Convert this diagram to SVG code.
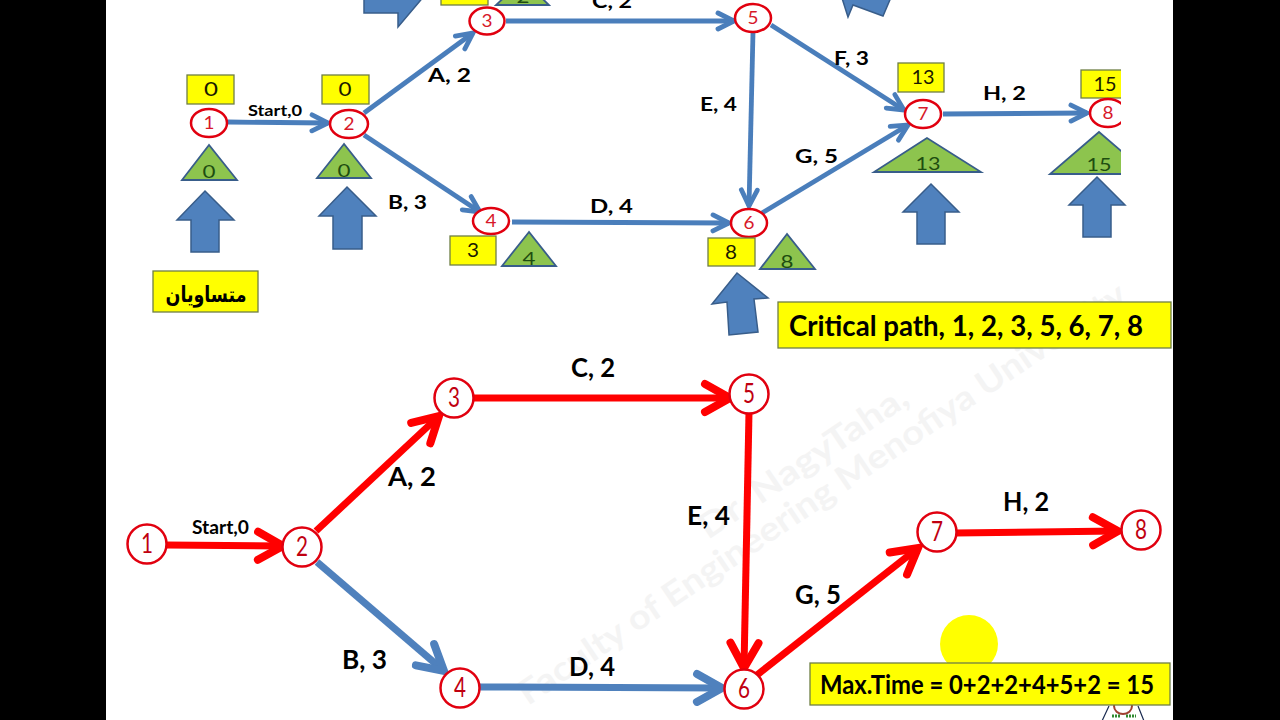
<svg xmlns="http://www.w3.org/2000/svg" width="1280" height="720" viewBox="0 0 1280 720">
<style>
text{font-family:Lato,"Open Sans","Liberation Sans",sans-serif;fill:#000}
.lb{font-weight:700}
.top{font-size:19px}
.bot{font-size:27px}
.num{font-size:19px;text-anchor:middle;fill:#1a1a00}
.tn{font-size:18px;text-anchor:middle;fill:#1e4d10}
.box{fill:#ffff00;stroke:#6f7f45;stroke-width:1.3}
.tri{fill:#8dc44e;stroke:#385d8a;stroke-width:1.8}
.arr{fill:#4f81bd;stroke:#385d8a;stroke-width:1.5}
.c{fill:#fff;stroke:#e1000f;stroke-width:2.5}
.cb{fill:#fff;stroke:#e1000f;stroke-width:2.5}
.d{fill:#d7182a;text-anchor:middle}
.ds{font-size:18px}
.db{font-size:26px;fill:#c00010}
.lt{fill:none;stroke:#4a7ebb;stroke-width:4.800}
.lr{fill:none;stroke:#ff0000;stroke-width:7}
.lbl{fill:none;stroke:#4f81bd;stroke-width:7}
.wm{fill:#f4f4f4;font-weight:700;font-size:34px}
</style>
<defs>
<marker id="hb" markerUnits="userSpaceOnUse" markerWidth="40" markerHeight="40" refX="24" refY="20" orient="auto" overflow="visible">
<path d="M8,12 L24,20 L8,28" fill="none" stroke="#4a7ebb" stroke-width="4.800" stroke-linecap="round"/>
</marker>
<marker id="hr" markerUnits="userSpaceOnUse" markerWidth="60" markerHeight="60" refX="40" refY="30" orient="auto" overflow="visible">
<path d="M15,16 L40,30 L15,44" fill="none" stroke="#ff0000" stroke-width="8" stroke-linecap="round"/>
</marker>
<marker id="hl" markerUnits="userSpaceOnUse" markerWidth="60" markerHeight="60" refX="40" refY="30" orient="auto" overflow="visible">
<path d="M15,16 L40,30 L15,44" fill="none" stroke="#4f81bd" stroke-width="8" stroke-linecap="round"/>
</marker>
<clipPath id="clip8"><rect x="1040" y="60" width="81" height="120"/></clipPath>
</defs>

<rect width="1280" height="720" fill="#fff"/>

<g id="watermark">
<text class="wm" transform="translate(528,706) rotate(-34)" textLength="725" lengthAdjust="spacingAndGlyphs">Faculty of Engineering Menofiya University</text>
<text class="wm" transform="translate(708,540) rotate(-34)" textLength="245" lengthAdjust="spacingAndGlyphs">Dr. NagyTaha,</text>
</g>

<g id="top-connectors">
<line class="lt" x1="228" y1="122" x2="328" y2="123" marker-end="url(#hb)"/>
<line class="lt" x1="364" y1="113" x2="473" y2="33" marker-end="url(#hb)"/>
<line class="lt" x1="364" y1="135" x2="480" y2="212" marker-end="url(#hb)"/>
<line class="lt" x1="506" y1="21" x2="734" y2="21" marker-end="url(#hb)"/>
<line class="lt" x1="512" y1="222" x2="729" y2="223" marker-end="url(#hb)"/>
<line class="lt" x1="753" y1="32" x2="749" y2="206" marker-end="url(#hb)"/>
<line class="lt" x1="771" y1="25" x2="904" y2="110" marker-end="url(#hb)"/>
<line class="lt" x1="762" y1="213" x2="908" y2="125" marker-end="url(#hb)"/>
<line class="lt" x1="943" y1="114" x2="1087" y2="113" marker-end="url(#hb)"/>
</g>

<g id="top-labels">
<text class="lb" font-size="15" x="248" y="116" textLength="54" lengthAdjust="spacingAndGlyphs">Start,0</text>
<text class="lb top" x="428" y="82" textLength="43" lengthAdjust="spacingAndGlyphs">A, 2</text>
<text class="lb top" x="388" y="209" textLength="39" lengthAdjust="spacingAndGlyphs">B, 3</text>
<text class="lb top" x="592" y="8" textLength="40" lengthAdjust="spacingAndGlyphs">C, 2</text>
<text class="lb top" x="590" y="213" textLength="43" lengthAdjust="spacingAndGlyphs">D, 4</text>
<text class="lb top" x="700" y="111" textLength="37" lengthAdjust="spacingAndGlyphs">E, 4</text>
<text class="lb top" x="834" y="65" textLength="35" lengthAdjust="spacingAndGlyphs">F, 3</text>
<text class="lb top" x="795" y="163" textLength="43" lengthAdjust="spacingAndGlyphs">G, 5</text>
<text class="lb top" x="983" y="100" textLength="43" lengthAdjust="spacingAndGlyphs">H, 2</text>
</g>

<g id="t-node1">
<rect class="box" x="187" y="75" width="47" height="29"/><text class="num" x="211" y="96" textLength="14" lengthAdjust="spacingAndGlyphs">0</text>
<ellipse class="c" cx="209" cy="123" rx="18" ry="14"/><text class="d ds" x="209" y="129" textLength="11" lengthAdjust="spacingAndGlyphs">1</text>
<polygon class="tri" points="209,145 182,180 237,180"/><text class="tn" x="209" y="178" textLength="13" lengthAdjust="spacingAndGlyphs">0</text>
<polygon class="arr" points="205,191 234,220 219,220 219,252 191,252 191,220 177,220"/>
</g>
<g id="t-node2">
<rect class="box" x="322" y="75" width="47" height="29"/><text class="num" x="345" y="96" textLength="13" lengthAdjust="spacingAndGlyphs">0</text>
<ellipse class="c" cx="349" cy="124" rx="19" ry="14"/><text class="d ds" x="349" y="130" textLength="11" lengthAdjust="spacingAndGlyphs">2</text>
<polygon class="tri" points="344,144 317,178 371,178"/><text class="tn" x="344" y="177" textLength="13" lengthAdjust="spacingAndGlyphs">0</text>
<polygon class="arr" points="347,187 376,216 362,216 362,249 333,249 333,216 319,216"/>
</g>
<g id="t-node3">
<rect class="box" x="441" y="-10" width="47" height="15"/>
<polygon class="tri" points="523,-20 496,5 549,5"/><text class="tn" x="523" y="3" textLength="13" lengthAdjust="spacingAndGlyphs">2</text>
<ellipse class="c" cx="487" cy="21" rx="17.500" ry="13.500"/><text class="d ds" x="487" y="27" textLength="11" lengthAdjust="spacingAndGlyphs">3</text>
<polygon class="arr" points="364,-5 364,13 398,13 398,27 425,-5"/>
</g>
<g id="t-node4">
<ellipse class="c" cx="491" cy="221" rx="18" ry="13"/><text class="d ds" x="491" y="227" textLength="11" lengthAdjust="spacingAndGlyphs">4</text>
<rect class="box" x="450" y="236" width="46" height="29"/><text class="num" x="473" y="257" textLength="12" lengthAdjust="spacingAndGlyphs">3</text>
<polygon class="tri" points="529,232 502,266 556,266"/><text class="tn" x="529" y="265" textLength="13" lengthAdjust="spacingAndGlyphs">4</text>
</g>
<g id="t-node5">
<ellipse class="c" cx="753" cy="18" rx="18" ry="14"/><text class="d ds" x="753" y="24" textLength="11" lengthAdjust="spacingAndGlyphs">5</text>
<polygon class="arr" points="841,-5 848,17 853,5 883,16 892,-5"/>
</g>
<g id="t-node6">
<ellipse class="c" cx="749" cy="223" rx="18" ry="14"/><text class="d ds" x="749" y="229" textLength="11" lengthAdjust="spacingAndGlyphs">6</text>
<rect class="box" x="708" y="238" width="47" height="28"/><text class="num" x="731" y="259" textLength="12" lengthAdjust="spacingAndGlyphs">8</text>
<polygon class="tri" points="787,234 760,269 815,269"/><text class="tn" x="787" y="268" textLength="13" lengthAdjust="spacingAndGlyphs">8</text>
<polygon class="arr" points="737,273 768,298 754,299 758,332 729,335 727,302 712,304"/>
</g>
<g id="t-node7">
<rect class="box" x="898" y="63" width="46" height="29"/><text class="num" x="923" y="84" textLength="23" lengthAdjust="spacingAndGlyphs">13</text>
<ellipse class="c" cx="923" cy="114" rx="18" ry="14"/><text class="d ds" x="923" y="120" textLength="11" lengthAdjust="spacingAndGlyphs">7</text>
<polygon class="tri" points="927,138 874,172 981,172"/><text class="tn" x="928" y="170" textLength="25" lengthAdjust="spacingAndGlyphs">13</text>
<polygon class="arr" points="931,184 959,212 945,212 945,244 917,244 917,212 903,212"/>
</g>
<g id="t-node8">
<g clip-path="url(#clip8)">
<rect class="box" x="1081" y="70" width="60" height="28"/><text class="num" x="1105" y="91" textLength="23" lengthAdjust="spacingAndGlyphs">15</text>
<ellipse class="c" cx="1108" cy="113" rx="18" ry="14"/><text class="d ds" x="1108" y="119" textLength="11" lengthAdjust="spacingAndGlyphs">8</text>
<polygon class="tri" points="1099,132 1050,174 1148,174"/><text class="tn" x="1099" y="171" textLength="25" lengthAdjust="spacingAndGlyphs">15</text>
</g>
<polygon class="arr" points="1097,177 1125,205 1111,205 1111,237 1083,237 1083,205 1069,205"/>
</g>

<g id="note-equal">
<rect class="box" x="153" y="271" width="105" height="41"/>
<text x="206" y="302" font-size="22" font-weight="700" text-anchor="middle" direction="rtl" style="font-family:'DejaVu Sans',sans-serif" textLength="81" lengthAdjust="spacingAndGlyphs">متساويان</text>
</g>
<g id="note-critical">
<rect class="box" x="778" y="302" width="393" height="46"/>
<text class="lb" font-size="28" x="789" y="336" textLength="354" lengthAdjust="spacingAndGlyphs">Critical path, 1, 2, 3, 5, 6, 7, 8</text>
</g>

<g id="bottom-connectors">
<line class="lr" x1="166" y1="545" x2="283" y2="546" marker-end="url(#hr)"/>
<line class="lr" x1="316" y1="531" x2="439" y2="416" marker-end="url(#hr)"/>
<line class="lr" x1="472" y1="398" x2="730" y2="398" marker-end="url(#hr)"/>
<line class="lr" x1="749" y1="412" x2="744" y2="668" marker-end="url(#hr)"/>
<line class="lr" x1="757" y1="675" x2="918" y2="548" marker-end="url(#hr)"/>
<line class="lr" x1="955" y1="533" x2="1118" y2="531" marker-end="url(#hr)"/>
<line class="lbl" x1="317" y1="562" x2="444" y2="671" marker-end="url(#hl)"/>
<line class="lbl" x1="480" y1="687" x2="722" y2="688" marker-end="url(#hl)"/>
</g>

<g id="b-node1"><circle class="cb" cx="147" cy="544" r="19.500"/><text class="d db" x="147" y="553" textLength="12" lengthAdjust="spacingAndGlyphs">1</text></g>
<g id="b-node2"><circle class="cb" cx="302" cy="547" r="19.500"/><text class="d db" x="302" y="556" textLength="12" lengthAdjust="spacingAndGlyphs">2</text></g>
<g id="b-node3"><circle class="cb" cx="454" cy="398" r="19.500"/><text class="d db" x="454" y="407" textLength="12" lengthAdjust="spacingAndGlyphs">3</text></g>
<g id="b-node4"><circle class="cb" cx="460" cy="688" r="19.500"/><text class="d db" x="460" y="697" textLength="12" lengthAdjust="spacingAndGlyphs">4</text></g>
<g id="b-node5"><circle class="cb" cx="749" cy="394" r="19.500"/><text class="d db" x="749" y="403" textLength="12" lengthAdjust="spacingAndGlyphs">5</text></g>
<g id="b-node6"><circle class="cb" cx="744" cy="689" r="19.500"/><text class="d db" x="744" y="698" textLength="12" lengthAdjust="spacingAndGlyphs">6</text></g>
<g id="b-node7"><circle class="cb" cx="937" cy="532" r="19.500"/><text class="d db" x="937" y="541" textLength="12" lengthAdjust="spacingAndGlyphs">7</text></g>
<g id="b-node8"><circle class="cb" cx="1141" cy="530" r="19.500"/><text class="d db" x="1141" y="539" textLength="12" lengthAdjust="spacingAndGlyphs">8</text></g>

<g id="bottom-labels">
<text class="lb" font-size="18" x="192" y="534" textLength="57" lengthAdjust="spacingAndGlyphs">Start,0</text>
<text class="lb bot" x="388" y="486" textLength="48" lengthAdjust="spacingAndGlyphs">A, 2</text>
<text class="lb bot" x="342" y="669" textLength="45" lengthAdjust="spacingAndGlyphs">B, 3</text>
<text class="lb bot" x="571" y="377" textLength="44" lengthAdjust="spacingAndGlyphs">C, 2</text>
<text class="lb bot" x="569" y="676" textLength="46" lengthAdjust="spacingAndGlyphs">D, 4</text>
<text class="lb bot" x="687" y="525" textLength="43" lengthAdjust="spacingAndGlyphs">E, 4</text>
<text class="lb bot" x="795" y="604" textLength="46" lengthAdjust="spacingAndGlyphs">G, 5</text>
<text class="lb bot" x="1003" y="511" textLength="46" lengthAdjust="spacingAndGlyphs">H, 2</text>
</g>

<g id="logo">
<path d="M1102,721 L1109,706 M1138,706 L1144,721" fill="none" stroke="#1a2a50" stroke-width="1.200"/>
<ellipse cx="1123" cy="706" rx="9" ry="8" fill="#fff" stroke="#a04030" stroke-width="2"/>
<path d="M1112,716 h8 M1126,716 h10" stroke="#2f8a2f" stroke-width="3" stroke-dasharray="2 1"/>
</g>

<ellipse id="pointer" cx="969" cy="644" rx="29" ry="29" fill="#ffff00"/>

<g id="note-max">
<rect class="box" x="810" y="663" width="360" height="42"/>
<text class="lb" font-size="27" x="820" y="694" textLength="334" lengthAdjust="spacingAndGlyphs">Max.Time = 0+2+2+4+5+2 = 15</text>
</g>

<rect x="0" y="0" width="106" height="720" fill="#000"/>
<rect x="1173" y="0" width="107" height="720" fill="#000"/>
</svg>
